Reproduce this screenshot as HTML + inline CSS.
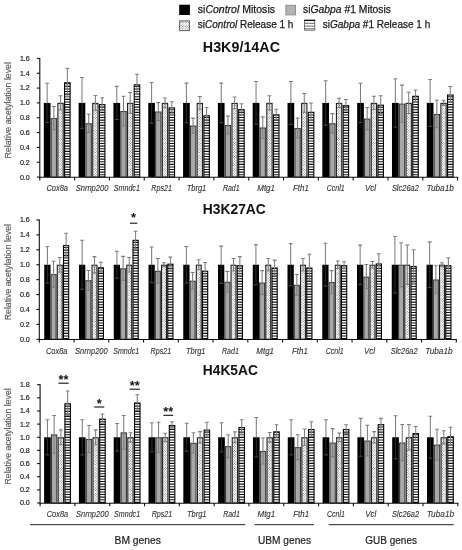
<!DOCTYPE html>
<html><head><meta charset="utf-8"><title>Histone acetylation</title>
<style>
html,body{margin:0;padding:0;background:#fff;}
body{width:462px;height:550px;overflow:hidden;font-family:"Liberation Sans",sans-serif;}
svg{display:block;}
svg text{font-family:"Liberation Sans",sans-serif;}
.tk{font-size:8px;fill:#222;stroke:#222;stroke-width:0.2px;}
.gn{font-size:8.6px;fill:#333;font-style:italic;stroke:#333;stroke-width:0.12px;}
.yl{font-size:8.75px;fill:#595959;stroke:#595959;stroke-width:0.15px;text-anchor:middle;}
.tt{font-size:14px;font-weight:bold;fill:#111;}
.lg{font-size:10.7px;fill:#1a1a1a;stroke:#1a1a1a;stroke-width:0.25px;}
.grp{font-size:10.6px;fill:#222;stroke:#222;stroke-width:0.2px;}
.st{font-size:12.8px;font-weight:bold;fill:#111;text-anchor:middle;}
.ax{stroke:#111;stroke-width:1.1;fill:none;}
.eb{stroke:#7d7d7d;stroke-width:1.05;fill:none;}
</style></head><body>
<svg width="462" height="550" viewBox="0 0 462 550">
<defs>
<pattern id="dots" width="13" height="13" patternUnits="userSpaceOnUse">
<rect width="13" height="13" fill="#fff"/>
<path fill="#808080" d="
M0.00 0.00h0.95v0.95h-0.95zM1.30 1.30h0.95v0.95h-0.95zM0.00 2.60h0.95v0.95h-0.95zM1.30 3.90h0.95v0.95h-0.95zM0.00 5.20h0.95v0.95h-0.95zM1.30 6.50h0.95v0.95h-0.95zM0.00 7.80h0.95v0.95h-0.95zM1.30 9.10h0.95v0.95h-0.95zM0.00 10.40h0.95v0.95h-0.95zM1.30 11.70h0.95v0.95h-0.95zM2.60 0.00h0.95v0.95h-0.95zM3.90 1.30h0.95v0.95h-0.95zM2.60 2.60h0.95v0.95h-0.95zM3.90 3.90h0.95v0.95h-0.95zM2.60 5.20h0.95v0.95h-0.95zM3.90 6.50h0.95v0.95h-0.95zM2.60 7.80h0.95v0.95h-0.95zM3.90 9.10h0.95v0.95h-0.95zM2.60 10.40h0.95v0.95h-0.95zM3.90 11.70h0.95v0.95h-0.95zM5.20 0.00h0.95v0.95h-0.95zM6.50 1.30h0.95v0.95h-0.95zM5.20 2.60h0.95v0.95h-0.95zM6.50 3.90h0.95v0.95h-0.95zM5.20 5.20h0.95v0.95h-0.95zM6.50 6.50h0.95v0.95h-0.95zM5.20 7.80h0.95v0.95h-0.95zM6.50 9.10h0.95v0.95h-0.95zM5.20 10.40h0.95v0.95h-0.95zM6.50 11.70h0.95v0.95h-0.95zM7.80 0.00h0.95v0.95h-0.95zM9.10 1.30h0.95v0.95h-0.95zM7.80 2.60h0.95v0.95h-0.95zM9.10 3.90h0.95v0.95h-0.95zM7.80 5.20h0.95v0.95h-0.95zM9.10 6.50h0.95v0.95h-0.95zM7.80 7.80h0.95v0.95h-0.95zM9.10 9.10h0.95v0.95h-0.95zM7.80 10.40h0.95v0.95h-0.95zM9.10 11.70h0.95v0.95h-0.95zM10.40 0.00h0.95v0.95h-0.95zM11.70 1.30h0.95v0.95h-0.95zM10.40 2.60h0.95v0.95h-0.95zM11.70 3.90h0.95v0.95h-0.95zM10.40 5.20h0.95v0.95h-0.95zM11.70 6.50h0.95v0.95h-0.95zM10.40 7.80h0.95v0.95h-0.95zM11.70 9.10h0.95v0.95h-0.95zM10.40 10.40h0.95v0.95h-0.95zM11.70 11.70h0.95v0.95h-0.95z"/>
</pattern>
<pattern id="str" width="8" height="13" patternUnits="userSpaceOnUse">
<rect width="8" height="13" fill="#fff"/>
<path fill="#111" d="M0 0.00h8v1.1h-8zM0 2.60h8v1.1h-8zM0 5.20h8v1.1h-8zM0 7.80h8v1.1h-8zM0 10.40h8v1.1h-8z"/>
</pattern>
</defs>
<rect width="462" height="550" fill="#fff"/>

<rect x="179.2" y="4.7" width="10.7" height="10.3" fill="#000"/>
<rect x="179.7" y="20.9" width="9.7" height="9.7" fill="url(#dots)" stroke="#5a5a5a" stroke-width="1"/>
<rect x="285.9" y="5.3" width="9.6" height="9.6" fill="#b3b3b3" stroke="#8f8f8f" stroke-width="1"/>
<rect x="304.6" y="20.2" width="10.2" height="10" fill="#fff" stroke="#555" stroke-width="0.8"/>
<path d="M304.2 20.4H315.2" stroke="#111" stroke-width="1.3" fill="none"/>
<path d="M304.6 23.3H314.8M304.6 26.1H314.8M304.6 28.8H314.8" stroke="#555" stroke-width="0.9" fill="none"/>
<text class="lg" x="197.8" y="13.3" textLength="77.2" lengthAdjust="spacingAndGlyphs">si<tspan font-style="italic">Control</tspan> Mitosis</text>
<text class="lg" x="197.8" y="28.2" textLength="95.6" lengthAdjust="spacingAndGlyphs">si<tspan font-style="italic">Control</tspan> Release 1 h</text>
<text class="lg" x="303" y="13.3" textLength="88" lengthAdjust="spacingAndGlyphs">si<tspan font-style="italic">Gabpa</tspan> #1 Mitosis</text>
<text class="lg" x="322.7" y="28.2" textLength="107.6" lengthAdjust="spacingAndGlyphs">si<tspan font-style="italic">Gabpa</tspan> #1 Release 1 h</text>
<text class="tt" x="202.8" y="52.0" textLength="77.2" lengthAdjust="spacingAndGlyphs">H3K9/14AC</text>
<text class="yl" transform="translate(11.4,110.25) rotate(-90)">Relative acetylation level</text>
<rect x="43.8" y="102.91" width="6.7" height="74.19" fill="#000"/>
<path class="eb" d="M47.15 83.25V102.91M45.25 83.25h3.8"/>
<path d="M47.15 102.91V122.57" stroke="#2b2b2b" stroke-width="1.05" fill="none"/>
<path d="M45.25 122.57h3.8" stroke="#4a4a4a" stroke-width="1.05" fill="none"/>
<rect x="51.2" y="118.62" width="5.3" height="58.48" fill="#a8a8a8" stroke="#3a3a3a" stroke-width="1.1"/>
<path class="eb" d="M53.85 106.47V129.77M51.95 106.47h3.8M51.95 129.77h3.8"/>
<rect x="57.9" y="103.41" width="5.3" height="73.69" fill="url(#dots)" stroke="#222" stroke-width="1.1"/>
<path class="eb" d="M60.55 95.79V110.03M58.65 95.79h3.8M58.65 110.03h3.8"/>
<rect x="64.6" y="82.79" width="5.5" height="94.31" fill="url(#str)" stroke="#000" stroke-width="1.1"/>
<path class="eb" d="M67.35 68.19V96.38M65.45 68.19h3.8M65.45 96.38h3.8"/>
<rect x="78.62" y="102.91" width="6.7" height="74.19" fill="#000"/>
<path class="eb" d="M81.97 77.47V102.91M80.07 77.47h3.8"/>
<path d="M81.97 102.91V128.36" stroke="#2b2b2b" stroke-width="1.05" fill="none"/>
<path d="M80.07 128.36h3.8" stroke="#4a4a4a" stroke-width="1.05" fill="none"/>
<rect x="86.02" y="123.74" width="5.3" height="53.36" fill="#a8a8a8" stroke="#3a3a3a" stroke-width="1.1"/>
<path class="eb" d="M88.67 114.04V132.44M86.77 114.04h3.8M86.77 132.44h3.8"/>
<rect x="92.72" y="103.41" width="5.3" height="73.69" fill="url(#dots)" stroke="#222" stroke-width="1.1"/>
<path class="eb" d="M95.37 95.49V110.33M93.47 95.49h3.8M93.47 110.33h3.8"/>
<rect x="99.42" y="104.67" width="5.5" height="72.43" fill="url(#str)" stroke="#000" stroke-width="1.1"/>
<path class="eb" d="M102.17 97.79V110.55M100.27 97.79h3.8M100.27 110.55h3.8"/>
<rect x="113.43" y="102.91" width="6.7" height="74.19" fill="#000"/>
<path class="eb" d="M116.78 86.37V102.91M114.88 86.37h3.8"/>
<path d="M116.78 102.91V119.46" stroke="#2b2b2b" stroke-width="1.05" fill="none"/>
<path d="M114.88 119.46h3.8" stroke="#4a4a4a" stroke-width="1.05" fill="none"/>
<rect x="120.83" y="111.57" width="5.3" height="65.53" fill="#a8a8a8" stroke="#3a3a3a" stroke-width="1.1"/>
<path class="eb" d="M123.48 96.24V125.91M121.58 96.24h3.8M121.58 125.91h3.8"/>
<rect x="127.53" y="103.41" width="5.3" height="73.69" fill="url(#dots)" stroke="#222" stroke-width="1.1"/>
<path class="eb" d="M130.18 92.53V113.3M128.28 92.53h3.8M128.28 113.3h3.8"/>
<rect x="134.23" y="84.87" width="5.5" height="92.23" fill="url(#str)" stroke="#000" stroke-width="1.1"/>
<path class="eb" d="M136.98 74.2V94.53M135.08 74.2h3.8M135.08 94.53h3.8"/>
<rect x="148.25" y="102.91" width="6.7" height="74.19" fill="#000"/>
<path class="eb" d="M151.6 82.59V102.91M149.7 82.59h3.8"/>
<path d="M151.6 102.91V123.24" stroke="#2b2b2b" stroke-width="1.05" fill="none"/>
<path d="M149.7 123.24h3.8" stroke="#4a4a4a" stroke-width="1.05" fill="none"/>
<rect x="155.65" y="112.02" width="5.3" height="65.08" fill="#a8a8a8" stroke="#3a3a3a" stroke-width="1.1"/>
<path class="eb" d="M158.3 102.62V120.42M156.4 102.62h3.8M156.4 120.42h3.8"/>
<rect x="162.35" y="103.41" width="5.3" height="73.69" fill="url(#dots)" stroke="#222" stroke-width="1.1"/>
<path class="eb" d="M165 98.09V107.73M163.1 98.09h3.8M163.1 107.73h3.8"/>
<rect x="169.05" y="107.94" width="5.5" height="69.16" fill="url(#str)" stroke="#000" stroke-width="1.1"/>
<path class="eb" d="M171.8 101.65V113.22M169.9 101.65h3.8M169.9 113.22h3.8"/>
<rect x="183.07" y="102.91" width="6.7" height="74.19" fill="#000"/>
<path class="eb" d="M186.42 83.1V102.91M184.52 83.1h3.8"/>
<path d="M186.42 102.91V122.72" stroke="#2b2b2b" stroke-width="1.05" fill="none"/>
<path d="M184.52 122.72h3.8" stroke="#4a4a4a" stroke-width="1.05" fill="none"/>
<rect x="190.47" y="126.04" width="5.3" height="51.06" fill="#a8a8a8" stroke="#3a3a3a" stroke-width="1.1"/>
<path class="eb" d="M193.12 118.12V132.96M191.22 118.12h3.8M191.22 132.96h3.8"/>
<rect x="197.17" y="103.41" width="5.3" height="73.69" fill="url(#dots)" stroke="#222" stroke-width="1.1"/>
<path class="eb" d="M199.82 96.53V109.29M197.92 96.53h3.8M197.92 109.29h3.8"/>
<rect x="203.87" y="115.88" width="5.5" height="61.22" fill="url(#str)" stroke="#000" stroke-width="1.1"/>
<path class="eb" d="M206.62 107.44V123.31M204.72 107.44h3.8M204.72 123.31h3.8"/>
<rect x="217.88" y="102.91" width="6.7" height="74.19" fill="#000"/>
<path class="eb" d="M221.23 83.1V102.91M219.33 83.1h3.8"/>
<path d="M221.23 102.91V122.72" stroke="#2b2b2b" stroke-width="1.05" fill="none"/>
<path d="M219.33 122.72h3.8" stroke="#4a4a4a" stroke-width="1.05" fill="none"/>
<rect x="225.28" y="125.52" width="5.3" height="51.58" fill="#a8a8a8" stroke="#3a3a3a" stroke-width="1.1"/>
<path class="eb" d="M227.93 116.12V133.92M226.03 116.12h3.8M226.03 133.92h3.8"/>
<rect x="231.98" y="103.41" width="5.3" height="73.69" fill="url(#dots)" stroke="#222" stroke-width="1.1"/>
<path class="eb" d="M234.63 97.05V108.77M232.73 97.05h3.8M232.73 108.77h3.8"/>
<rect x="238.68" y="109.72" width="5.5" height="67.38" fill="url(#str)" stroke="#000" stroke-width="1.1"/>
<path class="eb" d="M241.43 103.65V114.78M239.53 103.65h3.8M239.53 114.78h3.8"/>
<rect x="252.7" y="102.91" width="6.7" height="74.19" fill="#000"/>
<path class="eb" d="M256.05 81.55V102.91M254.15 81.55h3.8"/>
<path d="M256.05 102.91V124.28" stroke="#2b2b2b" stroke-width="1.05" fill="none"/>
<path d="M254.15 124.28h3.8" stroke="#4a4a4a" stroke-width="1.05" fill="none"/>
<rect x="260.1" y="128.04" width="5.3" height="49.06" fill="#a8a8a8" stroke="#3a3a3a" stroke-width="1.1"/>
<path class="eb" d="M262.75 116.86V138.23M260.85 116.86h3.8M260.85 138.23h3.8"/>
<rect x="266.8" y="103.41" width="5.3" height="73.69" fill="url(#dots)" stroke="#222" stroke-width="1.1"/>
<path class="eb" d="M269.45 95.79V110.03M267.55 95.79h3.8M267.55 110.03h3.8"/>
<rect x="273.5" y="114.84" width="5.5" height="62.26" fill="url(#str)" stroke="#000" stroke-width="1.1"/>
<path class="eb" d="M276.25 109.22V119.46M274.35 109.22h3.8M274.35 119.46h3.8"/>
<rect x="287.52" y="102.91" width="6.7" height="74.19" fill="#000"/>
<path class="eb" d="M290.87 81.4V102.91M288.97 81.4h3.8"/>
<path d="M290.87 102.91V124.43" stroke="#2b2b2b" stroke-width="1.05" fill="none"/>
<path d="M288.97 124.43h3.8" stroke="#4a4a4a" stroke-width="1.05" fill="none"/>
<rect x="294.92" y="128.56" width="5.3" height="48.54" fill="#a8a8a8" stroke="#3a3a3a" stroke-width="1.1"/>
<path class="eb" d="M297.57 118.12V138M295.67 118.12h3.8M295.67 138h3.8"/>
<rect x="301.62" y="103.41" width="5.3" height="73.69" fill="url(#dots)" stroke="#222" stroke-width="1.1"/>
<path class="eb" d="M304.27 93.49V112.33M302.37 93.49h3.8M302.37 112.33h3.8"/>
<rect x="308.32" y="112.32" width="5.5" height="64.78" fill="url(#str)" stroke="#000" stroke-width="1.1"/>
<path class="eb" d="M311.07 102.91V120.72M309.17 102.91h3.8M309.17 120.72h3.8"/>
<rect x="322.33" y="102.91" width="6.7" height="74.19" fill="#000"/>
<path class="eb" d="M325.68 80.66V102.91M323.78 80.66h3.8"/>
<path d="M325.68 102.91V125.17" stroke="#2b2b2b" stroke-width="1.05" fill="none"/>
<path d="M323.78 125.17h3.8" stroke="#4a4a4a" stroke-width="1.05" fill="none"/>
<rect x="329.73" y="123.74" width="5.3" height="53.36" fill="#a8a8a8" stroke="#3a3a3a" stroke-width="1.1"/>
<path class="eb" d="M332.38 113.6V132.88M330.48 113.6h3.8M330.48 132.88h3.8"/>
<rect x="336.43" y="103.41" width="5.3" height="73.69" fill="url(#dots)" stroke="#222" stroke-width="1.1"/>
<path class="eb" d="M339.08 98.31V107.51M337.18 98.31h3.8M337.18 107.51h3.8"/>
<rect x="343.13" y="105.64" width="5.5" height="71.46" fill="url(#str)" stroke="#000" stroke-width="1.1"/>
<path class="eb" d="M345.88 99.57V110.7M343.98 99.57h3.8M343.98 110.7h3.8"/>
<rect x="357.15" y="102.91" width="6.7" height="74.19" fill="#000"/>
<path class="eb" d="M360.5 83.33V102.91M358.6 83.33h3.8"/>
<path d="M360.5 102.91V122.5" stroke="#2b2b2b" stroke-width="1.05" fill="none"/>
<path d="M358.6 122.5h3.8" stroke="#4a4a4a" stroke-width="1.05" fill="none"/>
<rect x="364.55" y="119.14" width="5.3" height="57.96" fill="#a8a8a8" stroke="#3a3a3a" stroke-width="1.1"/>
<path class="eb" d="M367.2 107.51V129.77M365.3 107.51h3.8M365.3 129.77h3.8"/>
<rect x="371.25" y="103.41" width="5.3" height="73.69" fill="url(#dots)" stroke="#222" stroke-width="1.1"/>
<path class="eb" d="M373.9 96.31V109.52M372 96.31h3.8M372 109.52h3.8"/>
<rect x="377.95" y="105.19" width="5.5" height="71.91" fill="url(#str)" stroke="#000" stroke-width="1.1"/>
<path class="eb" d="M380.7 95.79V113.6M378.8 95.79h3.8M378.8 113.6h3.8"/>
<rect x="391.97" y="102.91" width="6.7" height="74.19" fill="#000"/>
<path class="eb" d="M395.32 78.73V102.91M393.42 78.73h3.8"/>
<path d="M395.32 102.91V127.1" stroke="#2b2b2b" stroke-width="1.05" fill="none"/>
<path d="M393.42 127.1h3.8" stroke="#4a4a4a" stroke-width="1.05" fill="none"/>
<rect x="399.37" y="104.15" width="5.3" height="72.95" fill="#a8a8a8" stroke="#3a3a3a" stroke-width="1.1"/>
<path class="eb" d="M402.02 85.11V122.2M400.12 85.11h3.8M400.12 122.2h3.8"/>
<rect x="406.07" y="103.41" width="5.3" height="73.69" fill="url(#dots)" stroke="#222" stroke-width="1.1"/>
<path class="eb" d="M408.72 92.23V113.6M406.82 92.23h3.8M406.82 113.6h3.8"/>
<rect x="412.77" y="96.29" width="5.5" height="80.81" fill="url(#str)" stroke="#000" stroke-width="1.1"/>
<path class="eb" d="M415.52 89.93V101.65M413.62 89.93h3.8M413.62 101.65h3.8"/>
<rect x="426.78" y="102.91" width="6.7" height="74.19" fill="#000"/>
<path class="eb" d="M430.13 79.54V102.91M428.23 79.54h3.8"/>
<path d="M430.13 102.91V126.28" stroke="#2b2b2b" stroke-width="1.05" fill="none"/>
<path d="M428.23 126.28h3.8" stroke="#4a4a4a" stroke-width="1.05" fill="none"/>
<rect x="434.18" y="114.54" width="5.3" height="62.56" fill="#a8a8a8" stroke="#3a3a3a" stroke-width="1.1"/>
<path class="eb" d="M436.83 100.32V127.77M434.93 100.32h3.8M434.93 127.77h3.8"/>
<rect x="440.88" y="103.41" width="5.3" height="73.69" fill="url(#dots)" stroke="#222" stroke-width="1.1"/>
<path class="eb" d="M443.53 100.32V105.51M441.63 100.32h3.8M441.63 105.51h3.8"/>
<rect x="447.58" y="95.03" width="5.5" height="82.07" fill="url(#str)" stroke="#000" stroke-width="1.1"/>
<path class="eb" d="M450.33 86.59V102.47M448.43 86.59h3.8M448.43 102.47h3.8"/>
<path class="ax" d="M39.8 57.9V177.3M39.3 177.3H458.1"/>
<path class="ax" d="M36.8 177.1H39.8"/>
<text class="tk" x="19.9" y="179.5" textLength="9.9" lengthAdjust="spacingAndGlyphs">0.0</text>
<path class="ax" d="M36.8 162.26H39.8"/>
<text class="tk" x="19.9" y="164.66" textLength="9.9" lengthAdjust="spacingAndGlyphs">0.2</text>
<path class="ax" d="M36.8 147.43H39.8"/>
<text class="tk" x="19.9" y="149.83" textLength="9.9" lengthAdjust="spacingAndGlyphs">0.4</text>
<path class="ax" d="M36.8 132.59H39.8"/>
<text class="tk" x="19.9" y="134.99" textLength="9.9" lengthAdjust="spacingAndGlyphs">0.6</text>
<path class="ax" d="M36.8 117.75H39.8"/>
<text class="tk" x="19.9" y="120.15" textLength="9.9" lengthAdjust="spacingAndGlyphs">0.8</text>
<path class="ax" d="M36.8 102.91H39.8"/>
<text class="tk" x="19.9" y="105.31" textLength="9.9" lengthAdjust="spacingAndGlyphs">1.0</text>
<path class="ax" d="M36.8 88.08H39.8"/>
<text class="tk" x="19.9" y="90.48" textLength="9.9" lengthAdjust="spacingAndGlyphs">1.2</text>
<path class="ax" d="M36.8 73.24H39.8"/>
<text class="tk" x="19.9" y="75.64" textLength="9.9" lengthAdjust="spacingAndGlyphs">1.4</text>
<path class="ax" d="M36.8 58.4H39.8"/>
<text class="tk" x="19.9" y="60.8" textLength="9.9" lengthAdjust="spacingAndGlyphs">1.6</text>
<path class="ax" d="M39.8 177.1v3.3"/>
<path class="ax" d="M74.62 177.1v3.3"/>
<path class="ax" d="M109.43 177.1v3.3"/>
<path class="ax" d="M144.25 177.1v3.3"/>
<path class="ax" d="M179.07 177.1v3.3"/>
<path class="ax" d="M213.88 177.1v3.3"/>
<path class="ax" d="M248.7 177.1v3.3"/>
<path class="ax" d="M283.52 177.1v3.3"/>
<path class="ax" d="M318.33 177.1v3.3"/>
<path class="ax" d="M353.15 177.1v3.3"/>
<path class="ax" d="M387.97 177.1v3.3"/>
<path class="ax" d="M422.78 177.1v3.3"/>
<path class="ax" d="M457.6 177.1v3.3"/>
<text class="gn" x="46.46" y="191.4" textLength="21.5" lengthAdjust="spacingAndGlyphs">Cox8a</text>
<text class="gn" x="75.73" y="191.4" textLength="32.6" lengthAdjust="spacingAndGlyphs">Snrnp200</text>
<text class="gn" x="113.84" y="191.4" textLength="26" lengthAdjust="spacingAndGlyphs">Smndc1</text>
<text class="gn" x="151.36" y="191.4" textLength="20.6" lengthAdjust="spacingAndGlyphs">Rps21</text>
<text class="gn" x="186.68" y="191.4" textLength="19.6" lengthAdjust="spacingAndGlyphs">Tbrg1</text>
<text class="gn" x="222.94" y="191.4" textLength="16.7" lengthAdjust="spacingAndGlyphs">Rad1</text>
<text class="gn" x="257.26" y="191.4" textLength="17.7" lengthAdjust="spacingAndGlyphs">Mtg1</text>
<text class="gn" x="293.07" y="191.4" textLength="15.7" lengthAdjust="spacingAndGlyphs">Fth1</text>
<text class="gn" x="326.74" y="191.4" textLength="18" lengthAdjust="spacingAndGlyphs">Ccnl1</text>
<text class="gn" x="365.06" y="191.4" textLength="11" lengthAdjust="spacingAndGlyphs">Vcl</text>
<text class="gn" x="391.88" y="191.4" textLength="27" lengthAdjust="spacingAndGlyphs">Slc26a2</text>
<text class="gn" x="426.49" y="191.4" textLength="27.4" lengthAdjust="spacingAndGlyphs">Tuba1b</text>
<text class="tt" x="202.8" y="214.0" textLength="63" lengthAdjust="spacingAndGlyphs">H3K27AC</text>
<text class="yl" transform="translate(11.4,272.15) rotate(-90)">Relative acetylation level</text>
<rect x="44.25" y="264.74" width="6.3" height="74.56" fill="#000"/>
<path class="eb" d="M47.4 246.4V264.74M45.5 246.4h3.8"/>
<path d="M47.4 264.74V283.08" stroke="#2b2b2b" stroke-width="1.05" fill="none"/>
<path d="M45.5 283.08h3.8" stroke="#4a4a4a" stroke-width="1.05" fill="none"/>
<rect x="51.1" y="274.63" width="5" height="64.67" fill="#a8a8a8" stroke="#3a3a3a" stroke-width="1.1"/>
<path class="eb" d="M53.6 261.16V287.11M51.7 261.16h3.8M51.7 287.11h3.8"/>
<rect x="57.3" y="265.24" width="4.9" height="74.06" fill="url(#dots)" stroke="#222" stroke-width="1.1"/>
<path class="eb" d="M59.75 257.58V271.9M57.85 257.58h3.8M57.85 271.9h3.8"/>
<rect x="63.5" y="245.63" width="5.2" height="93.67" fill="url(#str)" stroke="#000" stroke-width="1.1"/>
<path class="eb" d="M66.1 233.2V257.06M64.2 233.2h3.8M64.2 257.06h3.8"/>
<rect x="79" y="264.74" width="6.3" height="74.56" fill="#000"/>
<path class="eb" d="M82.15 240.28V264.74M80.25 240.28h3.8"/>
<path d="M82.15 264.74V289.19" stroke="#2b2b2b" stroke-width="1.05" fill="none"/>
<path d="M80.25 289.19h3.8" stroke="#4a4a4a" stroke-width="1.05" fill="none"/>
<rect x="85.85" y="280.75" width="5" height="58.55" fill="#a8a8a8" stroke="#3a3a3a" stroke-width="1.1"/>
<path class="eb" d="M88.35 270.55V289.94M86.45 270.55h3.8M86.45 289.94h3.8"/>
<rect x="92.05" y="265.24" width="4.9" height="74.06" fill="url(#dots)" stroke="#222" stroke-width="1.1"/>
<path class="eb" d="M94.5 256.61V272.86M92.6 256.61h3.8M92.6 272.86h3.8"/>
<rect x="98.25" y="267.77" width="5.2" height="71.53" fill="url(#str)" stroke="#000" stroke-width="1.1"/>
<path class="eb" d="M100.85 262.2V272.34M98.95 262.2h3.8M98.95 272.34h3.8"/>
<rect x="113.75" y="264.74" width="6.3" height="74.56" fill="#000"/>
<path class="eb" d="M116.9 251.32V264.74M115 251.32h3.8"/>
<path d="M116.9 264.74V278.16" stroke="#2b2b2b" stroke-width="1.05" fill="none"/>
<path d="M115 278.16h3.8" stroke="#4a4a4a" stroke-width="1.05" fill="none"/>
<rect x="120.6" y="268.82" width="5" height="70.48" fill="#a8a8a8" stroke="#3a3a3a" stroke-width="1.1"/>
<path class="eb" d="M123.1 256.39V280.25M121.2 256.39h3.8M121.2 280.25h3.8"/>
<rect x="126.8" y="265.24" width="4.9" height="74.06" fill="url(#dots)" stroke="#222" stroke-width="1.1"/>
<path class="eb" d="M129.25 257.58V271.9M127.35 257.58h3.8M127.35 271.9h3.8"/>
<rect x="133" y="240.33" width="5.2" height="98.97" fill="url(#str)" stroke="#000" stroke-width="1.1"/>
<path class="eb" d="M135.6 231.18V248.48M133.7 231.18h3.8M133.7 248.48h3.8"/>
<rect x="148.5" y="264.74" width="6.3" height="74.56" fill="#000"/>
<path class="eb" d="M151.65 246.92V264.74M149.75 246.92h3.8"/>
<path d="M151.65 264.74V282.56" stroke="#2b2b2b" stroke-width="1.05" fill="none"/>
<path d="M149.75 282.56h3.8" stroke="#4a4a4a" stroke-width="1.05" fill="none"/>
<rect x="155.35" y="271.35" width="5" height="67.95" fill="#a8a8a8" stroke="#3a3a3a" stroke-width="1.1"/>
<path class="eb" d="M157.85 258.4V283.3M155.95 258.4h3.8M155.95 283.3h3.8"/>
<rect x="161.55" y="265.24" width="4.9" height="74.06" fill="url(#dots)" stroke="#222" stroke-width="1.1"/>
<path class="eb" d="M164 262.72V266.75M162.1 262.72h3.8M162.1 266.75h3.8"/>
<rect x="167.75" y="264.19" width="5.2" height="75.11" fill="url(#str)" stroke="#000" stroke-width="1.1"/>
<path class="eb" d="M170.35 257.13V270.26M168.45 257.13h3.8M168.45 270.26h3.8"/>
<rect x="183.25" y="264.74" width="6.3" height="74.56" fill="#000"/>
<path class="eb" d="M186.4 246.4V264.74M184.5 246.4h3.8"/>
<path d="M186.4 264.74V283.08" stroke="#2b2b2b" stroke-width="1.05" fill="none"/>
<path d="M184.5 283.08h3.8" stroke="#4a4a4a" stroke-width="1.05" fill="none"/>
<rect x="190.1" y="281.27" width="5" height="58.03" fill="#a8a8a8" stroke="#3a3a3a" stroke-width="1.1"/>
<path class="eb" d="M192.6 272.57V288.97M190.7 272.57h3.8M190.7 288.97h3.8"/>
<rect x="196.3" y="265.24" width="4.9" height="74.06" fill="url(#dots)" stroke="#222" stroke-width="1.1"/>
<path class="eb" d="M198.75 259.67V269.81M196.85 259.67h3.8M196.85 269.81h3.8"/>
<rect x="202.5" y="271.2" width="5.2" height="68.1" fill="url(#str)" stroke="#000" stroke-width="1.1"/>
<path class="eb" d="M205.1 262.5V278.9M203.2 262.5h3.8M203.2 278.9h3.8"/>
<rect x="218" y="264.74" width="6.3" height="74.56" fill="#000"/>
<path class="eb" d="M221.15 246.1V264.74M219.25 246.1h3.8"/>
<path d="M221.15 264.74V283.38" stroke="#2b2b2b" stroke-width="1.05" fill="none"/>
<path d="M219.25 283.38h3.8" stroke="#4a4a4a" stroke-width="1.05" fill="none"/>
<rect x="224.85" y="282.31" width="5" height="56.99" fill="#a8a8a8" stroke="#3a3a3a" stroke-width="1.1"/>
<path class="eb" d="M227.35 271.37V292.25M225.45 271.37h3.8M225.45 292.25h3.8"/>
<rect x="231.05" y="265.24" width="4.9" height="74.06" fill="url(#dots)" stroke="#222" stroke-width="1.1"/>
<path class="eb" d="M233.5 258.4V271.08M231.6 258.4h3.8M231.6 271.08h3.8"/>
<rect x="237.25" y="265.76" width="5.2" height="73.54" fill="url(#str)" stroke="#000" stroke-width="1.1"/>
<path class="eb" d="M239.85 256.61V273.91M237.95 256.61h3.8M237.95 273.91h3.8"/>
<rect x="252.75" y="264.74" width="6.3" height="74.56" fill="#000"/>
<path class="eb" d="M255.9 244.61V264.74M254 244.61h3.8"/>
<path d="M255.9 264.74V284.87" stroke="#2b2b2b" stroke-width="1.05" fill="none"/>
<path d="M254 284.87h3.8" stroke="#4a4a4a" stroke-width="1.05" fill="none"/>
<rect x="259.6" y="283.06" width="5" height="56.24" fill="#a8a8a8" stroke="#3a3a3a" stroke-width="1.1"/>
<path class="eb" d="M262.1 270.63V294.49M260.2 270.63h3.8M260.2 294.49h3.8"/>
<rect x="265.8" y="265.24" width="4.9" height="74.06" fill="url(#dots)" stroke="#222" stroke-width="1.1"/>
<path class="eb" d="M268.25 258.4V271.08M266.35 258.4h3.8M266.35 271.08h3.8"/>
<rect x="272" y="268.07" width="5.2" height="71.23" fill="url(#str)" stroke="#000" stroke-width="1.1"/>
<path class="eb" d="M274.6 260.11V275.03M272.7 260.11h3.8M272.7 275.03h3.8"/>
<rect x="287.5" y="264.74" width="6.3" height="74.56" fill="#000"/>
<path class="eb" d="M290.65 243.64V264.74M288.75 243.64h3.8"/>
<path d="M290.65 264.74V285.84" stroke="#2b2b2b" stroke-width="1.05" fill="none"/>
<path d="M288.75 285.84h3.8" stroke="#4a4a4a" stroke-width="1.05" fill="none"/>
<rect x="294.35" y="285.37" width="5" height="53.93" fill="#a8a8a8" stroke="#3a3a3a" stroke-width="1.1"/>
<path class="eb" d="M296.85 274.43V295.31M294.95 274.43h3.8M294.95 295.31h3.8"/>
<rect x="300.55" y="265.24" width="4.9" height="74.06" fill="url(#dots)" stroke="#222" stroke-width="1.1"/>
<path class="eb" d="M303 258.4V271.08M301.1 258.4h3.8M301.1 271.08h3.8"/>
<rect x="306.75" y="268.07" width="5.2" height="71.23" fill="url(#str)" stroke="#000" stroke-width="1.1"/>
<path class="eb" d="M309.35 254.3V280.84M307.45 254.3h3.8M307.45 280.84h3.8"/>
<rect x="322.25" y="264.74" width="6.3" height="74.56" fill="#000"/>
<path class="eb" d="M325.4 243.34V264.74M323.5 243.34h3.8"/>
<path d="M325.4 264.74V286.14" stroke="#2b2b2b" stroke-width="1.05" fill="none"/>
<path d="M323.5 286.14h3.8" stroke="#4a4a4a" stroke-width="1.05" fill="none"/>
<rect x="329.1" y="282.54" width="5" height="56.76" fill="#a8a8a8" stroke="#3a3a3a" stroke-width="1.1"/>
<path class="eb" d="M331.6 270.63V293.44M329.7 270.63h3.8M329.7 293.44h3.8"/>
<rect x="335.3" y="265.24" width="4.9" height="74.06" fill="url(#dots)" stroke="#222" stroke-width="1.1"/>
<path class="eb" d="M337.75 261.01V268.47M335.85 261.01h3.8M335.85 268.47h3.8"/>
<rect x="341.5" y="265.76" width="5.2" height="73.54" fill="url(#str)" stroke="#000" stroke-width="1.1"/>
<path class="eb" d="M344.1 261.75V268.76M342.2 261.75h3.8M342.2 268.76h3.8"/>
<rect x="357" y="264.74" width="6.3" height="74.56" fill="#000"/>
<path class="eb" d="M360.15 245.13V264.74M358.25 245.13h3.8"/>
<path d="M360.15 264.74V284.35" stroke="#2b2b2b" stroke-width="1.05" fill="none"/>
<path d="M358.25 284.35h3.8" stroke="#4a4a4a" stroke-width="1.05" fill="none"/>
<rect x="363.85" y="277.17" width="5" height="62.13" fill="#a8a8a8" stroke="#3a3a3a" stroke-width="1.1"/>
<path class="eb" d="M366.35 264.51V288.82M364.45 264.51h3.8M364.45 288.82h3.8"/>
<rect x="370.05" y="265.24" width="4.9" height="74.06" fill="url(#dots)" stroke="#222" stroke-width="1.1"/>
<path class="eb" d="M372.5 261.46V268.02M370.6 261.46h3.8M370.6 268.02h3.8"/>
<rect x="376.25" y="263.97" width="5.2" height="75.33" fill="url(#str)" stroke="#000" stroke-width="1.1"/>
<path class="eb" d="M378.85 253.78V273.16M376.95 253.78h3.8M376.95 273.16h3.8"/>
<rect x="391.75" y="264.74" width="6.3" height="74.56" fill="#000"/>
<path class="eb" d="M394.9 236.48V264.74M393 236.48h3.8"/>
<path d="M394.9 264.74V293" stroke="#2b2b2b" stroke-width="1.05" fill="none"/>
<path d="M393 293h3.8" stroke="#4a4a4a" stroke-width="1.05" fill="none"/>
<rect x="398.6" y="265.24" width="5" height="74.06" fill="#a8a8a8" stroke="#3a3a3a" stroke-width="1.1"/>
<path class="eb" d="M401.1 242.82V286.66M399.2 242.82h3.8M399.2 286.66h3.8"/>
<rect x="404.8" y="265.24" width="4.9" height="74.06" fill="url(#dots)" stroke="#222" stroke-width="1.1"/>
<path class="eb" d="M407.25 245.13V284.35M405.35 245.13h3.8M405.35 284.35h3.8"/>
<rect x="411" y="266.51" width="5.2" height="72.79" fill="url(#str)" stroke="#000" stroke-width="1.1"/>
<path class="eb" d="M413.6 249.75V282.26M411.7 249.75h3.8M411.7 282.26h3.8"/>
<rect x="426.5" y="264.74" width="6.3" height="74.56" fill="#000"/>
<path class="eb" d="M429.65 241.85V264.74M427.75 241.85h3.8"/>
<path d="M429.65 264.74V287.63" stroke="#2b2b2b" stroke-width="1.05" fill="none"/>
<path d="M427.75 287.63h3.8" stroke="#4a4a4a" stroke-width="1.05" fill="none"/>
<rect x="433.35" y="280" width="5" height="59.3" fill="#a8a8a8" stroke="#3a3a3a" stroke-width="1.1"/>
<path class="eb" d="M435.85 265.78V293.22M433.95 265.78h3.8M433.95 293.22h3.8"/>
<rect x="439.55" y="265.24" width="4.9" height="74.06" fill="url(#dots)" stroke="#222" stroke-width="1.1"/>
<path class="eb" d="M442 262.72V266.75M440.1 262.72h3.8M440.1 266.75h3.8"/>
<rect x="445.75" y="265.76" width="5.2" height="73.54" fill="url(#str)" stroke="#000" stroke-width="1.1"/>
<path class="eb" d="M448.35 257.8V272.72M446.45 257.8h3.8M446.45 272.72h3.8"/>
<path class="ax" d="M39.3 219.5V339.5M38.8 339.5H456.8"/>
<path class="ax" d="M36.3 339.3H39.3"/>
<text class="tk" x="19.9" y="341.7" textLength="9.9" lengthAdjust="spacingAndGlyphs">0.0</text>
<path class="ax" d="M36.3 324.39H39.3"/>
<text class="tk" x="19.9" y="326.79" textLength="9.9" lengthAdjust="spacingAndGlyphs">0.2</text>
<path class="ax" d="M36.3 309.48H39.3"/>
<text class="tk" x="19.9" y="311.88" textLength="9.9" lengthAdjust="spacingAndGlyphs">0.4</text>
<path class="ax" d="M36.3 294.56H39.3"/>
<text class="tk" x="19.9" y="296.96" textLength="9.9" lengthAdjust="spacingAndGlyphs">0.6</text>
<path class="ax" d="M36.3 279.65H39.3"/>
<text class="tk" x="19.9" y="282.05" textLength="9.9" lengthAdjust="spacingAndGlyphs">0.8</text>
<path class="ax" d="M36.3 264.74H39.3"/>
<text class="tk" x="19.9" y="267.14" textLength="9.9" lengthAdjust="spacingAndGlyphs">1.0</text>
<path class="ax" d="M36.3 249.82H39.3"/>
<text class="tk" x="19.9" y="252.22" textLength="9.9" lengthAdjust="spacingAndGlyphs">1.2</text>
<path class="ax" d="M36.3 234.91H39.3"/>
<text class="tk" x="19.9" y="237.31" textLength="9.9" lengthAdjust="spacingAndGlyphs">1.4</text>
<path class="ax" d="M36.3 220H39.3"/>
<text class="tk" x="19.9" y="222.4" textLength="9.9" lengthAdjust="spacingAndGlyphs">1.6</text>
<path class="ax" d="M39.3 339.3v3.3"/>
<path class="ax" d="M74.05 339.3v3.3"/>
<path class="ax" d="M108.8 339.3v3.3"/>
<path class="ax" d="M143.55 339.3v3.3"/>
<path class="ax" d="M178.3 339.3v3.3"/>
<path class="ax" d="M213.05 339.3v3.3"/>
<path class="ax" d="M247.8 339.3v3.3"/>
<path class="ax" d="M282.55 339.3v3.3"/>
<path class="ax" d="M317.3 339.3v3.3"/>
<path class="ax" d="M352.05 339.3v3.3"/>
<path class="ax" d="M386.8 339.3v3.3"/>
<path class="ax" d="M421.55 339.3v3.3"/>
<path class="ax" d="M456.3 339.3v3.3"/>
<text class="gn" x="45.92" y="353.6" textLength="21.5" lengthAdjust="spacingAndGlyphs">Cox8a</text>
<text class="gn" x="75.12" y="353.6" textLength="32.6" lengthAdjust="spacingAndGlyphs">Snrnp200</text>
<text class="gn" x="113.17" y="353.6" textLength="26" lengthAdjust="spacingAndGlyphs">Smndc1</text>
<text class="gn" x="150.62" y="353.6" textLength="20.6" lengthAdjust="spacingAndGlyphs">Rps21</text>
<text class="gn" x="185.88" y="353.6" textLength="19.6" lengthAdjust="spacingAndGlyphs">Tbrg1</text>
<text class="gn" x="222.08" y="353.6" textLength="16.7" lengthAdjust="spacingAndGlyphs">Rad1</text>
<text class="gn" x="256.32" y="353.6" textLength="17.7" lengthAdjust="spacingAndGlyphs">Mtg1</text>
<text class="gn" x="292.07" y="353.6" textLength="15.7" lengthAdjust="spacingAndGlyphs">Fth1</text>
<text class="gn" x="325.68" y="353.6" textLength="18" lengthAdjust="spacingAndGlyphs">Ccnl1</text>
<text class="gn" x="363.93" y="353.6" textLength="11" lengthAdjust="spacingAndGlyphs">Vcl</text>
<text class="gn" x="390.68" y="353.6" textLength="27" lengthAdjust="spacingAndGlyphs">Slc26a2</text>
<text class="gn" x="425.23" y="353.6" textLength="27.4" lengthAdjust="spacingAndGlyphs">Tuba1b</text>
<text class="tt" x="202.8" y="374.5" textLength="55.1" lengthAdjust="spacingAndGlyphs">H4K5AC</text>
<text class="yl" transform="translate(11.4,436.35) rotate(-90)">Relative acetylation level</text>
<rect x="44.1" y="437.28" width="6.7" height="65.72" fill="#000"/>
<path class="eb" d="M47.45 419.66V437.28M45.55 419.66h3.8"/>
<path d="M47.45 437.28V454.89" stroke="#2b2b2b" stroke-width="1.05" fill="none"/>
<path d="M45.55 454.89h3.8" stroke="#4a4a4a" stroke-width="1.05" fill="none"/>
<rect x="51.5" y="434.95" width="5.3" height="68.05" fill="#a8a8a8" stroke="#3a3a3a" stroke-width="1.1"/>
<path class="eb" d="M54.15 415.59V453.31M52.25 415.59h3.8M52.25 453.31h3.8"/>
<rect x="58.2" y="437.78" width="5.3" height="65.22" fill="url(#dots)" stroke="#222" stroke-width="1.1"/>
<path class="eb" d="M60.85 429.85V444.7M58.95 429.85h3.8M58.95 444.7h3.8"/>
<rect x="64.9" y="403.8" width="5.5" height="99.2" fill="url(#str)" stroke="#000" stroke-width="1.1"/>
<path class="eb" d="M67.65 391.08V415.52M65.75 391.08h3.8M65.75 415.52h3.8"/>
<rect x="78.91" y="437.28" width="6.7" height="65.72" fill="#000"/>
<path class="eb" d="M82.26 419.66V437.28M80.36 419.66h3.8"/>
<path d="M82.26 437.28V454.89" stroke="#2b2b2b" stroke-width="1.05" fill="none"/>
<path d="M80.36 454.89h3.8" stroke="#4a4a4a" stroke-width="1.05" fill="none"/>
<rect x="86.31" y="439.49" width="5.3" height="63.51" fill="#a8a8a8" stroke="#3a3a3a" stroke-width="1.1"/>
<path class="eb" d="M88.96 425.51V452.46M87.06 425.51h3.8M87.06 452.46h3.8"/>
<rect x="93.01" y="437.78" width="5.3" height="65.22" fill="url(#dots)" stroke="#222" stroke-width="1.1"/>
<path class="eb" d="M95.66 429.85V444.7M93.76 429.85h3.8M93.76 444.7h3.8"/>
<rect x="99.71" y="419.11" width="5.5" height="83.89" fill="url(#str)" stroke="#000" stroke-width="1.1"/>
<path class="eb" d="M102.46 414.01V423.21M100.56 414.01h3.8M100.56 423.21h3.8"/>
<rect x="113.72" y="437.28" width="6.7" height="65.72" fill="#000"/>
<path class="eb" d="M117.07 423.48V437.28M115.17 423.48h3.8"/>
<path d="M117.07 437.28V451.08" stroke="#2b2b2b" stroke-width="1.05" fill="none"/>
<path d="M115.17 451.08h3.8" stroke="#4a4a4a" stroke-width="1.05" fill="none"/>
<rect x="121.12" y="432.91" width="5.3" height="70.09" fill="#a8a8a8" stroke="#3a3a3a" stroke-width="1.1"/>
<path class="eb" d="M123.77 415.59V449.24M121.87 415.59h3.8M121.87 449.24h3.8"/>
<rect x="127.82" y="437.78" width="5.3" height="65.22" fill="url(#dots)" stroke="#222" stroke-width="1.1"/>
<path class="eb" d="M130.47 432.68V441.88M128.57 432.68h3.8M128.57 441.88h3.8"/>
<rect x="134.52" y="403.08" width="5.5" height="99.92" fill="url(#str)" stroke="#000" stroke-width="1.1"/>
<path class="eb" d="M137.27 394.69V410.46M135.37 394.69h3.8M135.37 410.46h3.8"/>
<rect x="148.52" y="437.28" width="6.7" height="65.72" fill="#000"/>
<path class="eb" d="M151.87 422.69V437.28M149.97 422.69h3.8"/>
<path d="M151.87 437.28V451.87" stroke="#2b2b2b" stroke-width="1.05" fill="none"/>
<path d="M149.97 451.87h3.8" stroke="#4a4a4a" stroke-width="1.05" fill="none"/>
<rect x="155.92" y="437.78" width="5.3" height="65.22" fill="#a8a8a8" stroke="#3a3a3a" stroke-width="1.1"/>
<path class="eb" d="M158.57 422.16V452.39M156.67 422.16h3.8M156.67 452.39h3.8"/>
<rect x="162.62" y="437.78" width="5.3" height="65.22" fill="url(#dots)" stroke="#222" stroke-width="1.1"/>
<path class="eb" d="M165.27 433.2V441.35M163.37 433.2h3.8M163.37 441.35h3.8"/>
<rect x="169.32" y="425.49" width="5.5" height="77.51" fill="url(#str)" stroke="#000" stroke-width="1.1"/>
<path class="eb" d="M172.07 421.7V428.27M170.17 421.7h3.8M170.17 428.27h3.8"/>
<rect x="183.33" y="437.28" width="6.7" height="65.72" fill="#000"/>
<path class="eb" d="M186.68 423.21V437.28M184.78 423.21h3.8"/>
<path d="M186.68 437.28V451.34" stroke="#2b2b2b" stroke-width="1.05" fill="none"/>
<path d="M184.78 451.34h3.8" stroke="#4a4a4a" stroke-width="1.05" fill="none"/>
<rect x="190.73" y="443.36" width="5.3" height="59.64" fill="#a8a8a8" stroke="#3a3a3a" stroke-width="1.1"/>
<path class="eb" d="M193.38 432.68V453.05M191.48 432.68h3.8M191.48 453.05h3.8"/>
<rect x="197.43" y="437.78" width="5.3" height="65.22" fill="url(#dots)" stroke="#222" stroke-width="1.1"/>
<path class="eb" d="M200.08 431.63V442.93M198.18 431.63h3.8M198.18 442.93h3.8"/>
<rect x="204.13" y="430.09" width="5.5" height="72.91" fill="url(#str)" stroke="#000" stroke-width="1.1"/>
<path class="eb" d="M206.88 422.16V437.01M204.98 422.16h3.8M204.98 437.01h3.8"/>
<rect x="218.14" y="437.28" width="6.7" height="65.72" fill="#000"/>
<path class="eb" d="M221.49 422.69V437.28M219.59 422.69h3.8"/>
<path d="M221.49 437.28V451.87" stroke="#2b2b2b" stroke-width="1.05" fill="none"/>
<path d="M219.59 451.87h3.8" stroke="#4a4a4a" stroke-width="1.05" fill="none"/>
<rect x="225.54" y="446.65" width="5.3" height="56.35" fill="#a8a8a8" stroke="#3a3a3a" stroke-width="1.1"/>
<path class="eb" d="M228.19 434.65V457.65M226.29 434.65h3.8M226.29 457.65h3.8"/>
<rect x="232.24" y="437.78" width="5.3" height="65.22" fill="url(#dots)" stroke="#222" stroke-width="1.1"/>
<path class="eb" d="M234.89 431.89V442.67M232.99 431.89h3.8M232.99 442.67h3.8"/>
<rect x="238.94" y="427.53" width="5.5" height="75.47" fill="url(#str)" stroke="#000" stroke-width="1.1"/>
<path class="eb" d="M241.69 419.66V434.39M239.79 419.66h3.8M239.79 434.39h3.8"/>
<rect x="252.95" y="437.28" width="6.7" height="65.72" fill="#000"/>
<path class="eb" d="M256.3 417.56V437.28M254.4 417.56h3.8"/>
<path d="M256.3 437.28V456.99" stroke="#2b2b2b" stroke-width="1.05" fill="none"/>
<path d="M254.4 456.99h3.8" stroke="#4a4a4a" stroke-width="1.05" fill="none"/>
<rect x="260.35" y="451.51" width="5.3" height="51.49" fill="#a8a8a8" stroke="#3a3a3a" stroke-width="1.1"/>
<path class="eb" d="M263 438V464.03M261.1 438h3.8M261.1 464.03h3.8"/>
<rect x="267.05" y="437.78" width="5.3" height="65.22" fill="url(#dots)" stroke="#222" stroke-width="1.1"/>
<path class="eb" d="M269.7 432.41V442.14M267.8 432.41h3.8M267.8 442.14h3.8"/>
<rect x="273.75" y="431.86" width="5.5" height="71.14" fill="url(#str)" stroke="#000" stroke-width="1.1"/>
<path class="eb" d="M276.5 424.79V437.93M274.6 424.79h3.8M274.6 437.93h3.8"/>
<rect x="287.76" y="437.28" width="6.7" height="65.72" fill="#000"/>
<path class="eb" d="M291.11 419.66V437.28M289.21 419.66h3.8"/>
<path d="M291.11 437.28V454.89" stroke="#2b2b2b" stroke-width="1.05" fill="none"/>
<path d="M289.21 454.89h3.8" stroke="#4a4a4a" stroke-width="1.05" fill="none"/>
<rect x="295.16" y="447.64" width="5.3" height="55.36" fill="#a8a8a8" stroke="#3a3a3a" stroke-width="1.1"/>
<path class="eb" d="M297.81 434.65V459.62M295.91 434.65h3.8M295.91 459.62h3.8"/>
<rect x="301.86" y="437.78" width="5.3" height="65.22" fill="url(#dots)" stroke="#222" stroke-width="1.1"/>
<path class="eb" d="M304.51 429.06V445.49M302.61 429.06h3.8M302.61 445.49h3.8"/>
<rect x="308.56" y="429.56" width="5.5" height="73.44" fill="url(#str)" stroke="#000" stroke-width="1.1"/>
<path class="eb" d="M311.31 421.7V436.42M309.41 421.7h3.8M309.41 436.42h3.8"/>
<rect x="322.57" y="437.28" width="6.7" height="65.72" fill="#000"/>
<path class="eb" d="M325.92 419.66V437.28M324.02 419.66h3.8"/>
<path d="M325.92 437.28V454.89" stroke="#2b2b2b" stroke-width="1.05" fill="none"/>
<path d="M324.02 454.89h3.8" stroke="#4a4a4a" stroke-width="1.05" fill="none"/>
<rect x="329.97" y="443.1" width="5.3" height="59.9" fill="#a8a8a8" stroke="#3a3a3a" stroke-width="1.1"/>
<path class="eb" d="M332.62 428.6V456.6M330.72 428.6h3.8M330.72 456.6h3.8"/>
<rect x="336.67" y="437.78" width="5.3" height="65.22" fill="url(#dots)" stroke="#222" stroke-width="1.1"/>
<path class="eb" d="M339.32 433.14V441.42M337.42 433.14h3.8M337.42 441.42h3.8"/>
<rect x="343.37" y="429.56" width="5.5" height="73.44" fill="url(#str)" stroke="#000" stroke-width="1.1"/>
<path class="eb" d="M346.12 424.72V433.4M344.22 424.72h3.8M344.22 433.4h3.8"/>
<rect x="357.38" y="437.28" width="6.7" height="65.72" fill="#000"/>
<path class="eb" d="M360.73 418.35V437.28M358.83 418.35h3.8"/>
<path d="M360.73 437.28V456.21" stroke="#2b2b2b" stroke-width="1.05" fill="none"/>
<path d="M358.83 456.21h3.8" stroke="#4a4a4a" stroke-width="1.05" fill="none"/>
<rect x="364.77" y="441.06" width="5.3" height="61.94" fill="#a8a8a8" stroke="#3a3a3a" stroke-width="1.1"/>
<path class="eb" d="M367.42 425.25V455.88M365.52 425.25h3.8M365.52 455.88h3.8"/>
<rect x="371.48" y="437.78" width="5.3" height="65.22" fill="url(#dots)" stroke="#222" stroke-width="1.1"/>
<path class="eb" d="M374.12 431.63V442.93M372.23 431.63h3.8M372.23 442.93h3.8"/>
<rect x="378.18" y="424.7" width="5.5" height="78.3" fill="url(#str)" stroke="#000" stroke-width="1.1"/>
<path class="eb" d="M380.93 418.35V430.05M379.03 418.35h3.8M379.03 430.05h3.8"/>
<rect x="392.18" y="437.28" width="6.7" height="65.72" fill="#000"/>
<path class="eb" d="M395.53 415.79V437.28M393.63 415.79h3.8"/>
<path d="M395.53 437.28V458.77" stroke="#2b2b2b" stroke-width="1.05" fill="none"/>
<path d="M393.63 458.77h3.8" stroke="#4a4a4a" stroke-width="1.05" fill="none"/>
<rect x="399.58" y="443.1" width="5.3" height="59.9" fill="#a8a8a8" stroke="#3a3a3a" stroke-width="1.1"/>
<path class="eb" d="M402.23 424.53V460.67M400.33 424.53h3.8M400.33 460.67h3.8"/>
<rect x="406.28" y="437.78" width="5.3" height="65.22" fill="url(#dots)" stroke="#222" stroke-width="1.1"/>
<path class="eb" d="M408.93 424.46V450.09M407.03 424.46h3.8M407.03 450.09h3.8"/>
<rect x="412.98" y="433.64" width="5.5" height="69.36" fill="url(#str)" stroke="#000" stroke-width="1.1"/>
<path class="eb" d="M415.73 426.57V439.71M413.83 426.57h3.8M413.83 439.71h3.8"/>
<rect x="426.99" y="437.28" width="6.7" height="65.72" fill="#000"/>
<path class="eb" d="M430.34 416.31V437.28M428.44 416.31h3.8"/>
<path d="M430.34 437.28V458.24" stroke="#2b2b2b" stroke-width="1.05" fill="none"/>
<path d="M428.44 458.24h3.8" stroke="#4a4a4a" stroke-width="1.05" fill="none"/>
<rect x="434.39" y="445.14" width="5.3" height="57.86" fill="#a8a8a8" stroke="#3a3a3a" stroke-width="1.1"/>
<path class="eb" d="M437.04 429.33V459.95M435.14 429.33h3.8M435.14 459.95h3.8"/>
<rect x="441.09" y="437.78" width="5.3" height="65.22" fill="url(#dots)" stroke="#222" stroke-width="1.1"/>
<path class="eb" d="M443.74 430.71V443.85M441.84 430.71h3.8M441.84 443.85h3.8"/>
<rect x="447.79" y="436.73" width="5.5" height="66.27" fill="url(#str)" stroke="#000" stroke-width="1.1"/>
<path class="eb" d="M450.54 427.29V445.16M448.64 427.29h3.8M448.64 445.16h3.8"/>
<path class="ax" d="M40.1 384.2V503.2M39.6 503.2H458.3"/>
<path class="ax" d="M37.1 503H40.1"/>
<text class="tk" x="19.9" y="505.4" textLength="9.9" lengthAdjust="spacingAndGlyphs">0.0</text>
<path class="ax" d="M37.1 489.86H40.1"/>
<text class="tk" x="19.9" y="492.26" textLength="9.9" lengthAdjust="spacingAndGlyphs">0.2</text>
<path class="ax" d="M37.1 476.71H40.1"/>
<text class="tk" x="19.9" y="479.11" textLength="9.9" lengthAdjust="spacingAndGlyphs">0.4</text>
<path class="ax" d="M37.1 463.57H40.1"/>
<text class="tk" x="19.9" y="465.97" textLength="9.9" lengthAdjust="spacingAndGlyphs">0.6</text>
<path class="ax" d="M37.1 450.42H40.1"/>
<text class="tk" x="19.9" y="452.82" textLength="9.9" lengthAdjust="spacingAndGlyphs">0.8</text>
<path class="ax" d="M37.1 437.28H40.1"/>
<text class="tk" x="19.9" y="439.68" textLength="9.9" lengthAdjust="spacingAndGlyphs">1.0</text>
<path class="ax" d="M37.1 424.13H40.1"/>
<text class="tk" x="19.9" y="426.53" textLength="9.9" lengthAdjust="spacingAndGlyphs">1.2</text>
<path class="ax" d="M37.1 410.99H40.1"/>
<text class="tk" x="19.9" y="413.39" textLength="9.9" lengthAdjust="spacingAndGlyphs">1.4</text>
<path class="ax" d="M37.1 397.84H40.1"/>
<text class="tk" x="19.9" y="400.24" textLength="9.9" lengthAdjust="spacingAndGlyphs">1.6</text>
<path class="ax" d="M37.1 384.7H40.1"/>
<text class="tk" x="19.9" y="387.1" textLength="9.9" lengthAdjust="spacingAndGlyphs">1.8</text>
<path class="ax" d="M40.1 503v3.3"/>
<path class="ax" d="M74.91 503v3.3"/>
<path class="ax" d="M109.72 503v3.3"/>
<path class="ax" d="M144.52 503v3.3"/>
<path class="ax" d="M179.33 503v3.3"/>
<path class="ax" d="M214.14 503v3.3"/>
<path class="ax" d="M248.95 503v3.3"/>
<path class="ax" d="M283.76 503v3.3"/>
<path class="ax" d="M318.57 503v3.3"/>
<path class="ax" d="M353.38 503v3.3"/>
<path class="ax" d="M388.18 503v3.3"/>
<path class="ax" d="M422.99 503v3.3"/>
<path class="ax" d="M457.8 503v3.3"/>
<text class="gn" x="46.75" y="517.2" textLength="21.5" lengthAdjust="spacingAndGlyphs">Cox8a</text>
<text class="gn" x="76.01" y="517.2" textLength="32.6" lengthAdjust="spacingAndGlyphs">Snrnp200</text>
<text class="gn" x="114.12" y="517.2" textLength="26" lengthAdjust="spacingAndGlyphs">Smndc1</text>
<text class="gn" x="151.63" y="517.2" textLength="20.6" lengthAdjust="spacingAndGlyphs">Rps21</text>
<text class="gn" x="186.94" y="517.2" textLength="19.6" lengthAdjust="spacingAndGlyphs">Tbrg1</text>
<text class="gn" x="223.2" y="517.2" textLength="16.7" lengthAdjust="spacingAndGlyphs">Rad1</text>
<text class="gn" x="257.5" y="517.2" textLength="17.7" lengthAdjust="spacingAndGlyphs">Mtg1</text>
<text class="gn" x="293.31" y="517.2" textLength="15.7" lengthAdjust="spacingAndGlyphs">Fth1</text>
<text class="gn" x="326.97" y="517.2" textLength="18" lengthAdjust="spacingAndGlyphs">Ccnl1</text>
<text class="gn" x="365.28" y="517.2" textLength="11" lengthAdjust="spacingAndGlyphs">Vcl</text>
<text class="gn" x="392.09" y="517.2" textLength="27" lengthAdjust="spacingAndGlyphs">Slc26a2</text>
<text class="gn" x="426.7" y="517.2" textLength="27.4" lengthAdjust="spacingAndGlyphs">Tuba1b</text>
<path d="M129.9 223.2H137.3" stroke="#111" stroke-width="1.1" fill="none"/>
<text class="st" x="133.6" y="221.8">*</text>
<path d="M58.4 383.2H68.7" stroke="#111" stroke-width="1.1" fill="none"/>
<text class="st" x="63.55" y="384.2">**</text>
<path d="M94.2 407.0H104.3" stroke="#111" stroke-width="1.1" fill="none"/>
<text class="st" x="99.25" y="408">*</text>
<path d="M129.6 389.2H139.8" stroke="#111" stroke-width="1.1" fill="none"/>
<text class="st" x="134.7" y="390.2">**</text>
<path d="M163.4 415.3H173.2" stroke="#111" stroke-width="1.1" fill="none"/>
<text class="st" x="168.3" y="416.3">**</text>
<path d="M30 524.7H245.3" stroke="#222" stroke-width="1" fill="none"/>
<text class="grp" x="114.5" y="543.6" textLength="46.5" lengthAdjust="spacingAndGlyphs">BM genes</text>
<path d="M254.7 524.7H314" stroke="#222" stroke-width="1" fill="none"/>
<text class="grp" x="258" y="543.6" textLength="53" lengthAdjust="spacingAndGlyphs">UBM genes</text>
<path d="M328.7 524.7H453.7" stroke="#222" stroke-width="1" fill="none"/>
<text class="grp" x="365.3" y="543.6" textLength="51.7" lengthAdjust="spacingAndGlyphs">GUB genes</text>
</svg></body></html>
